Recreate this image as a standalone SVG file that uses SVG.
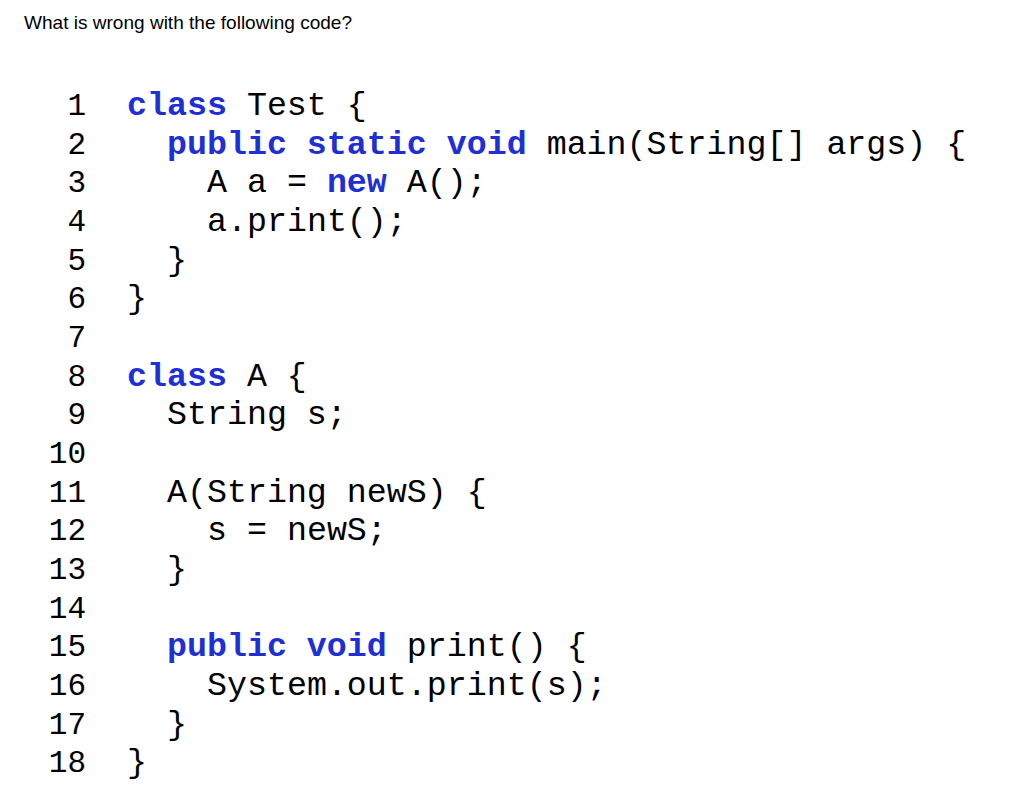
<svg xmlns="http://www.w3.org/2000/svg" width="1024" height="798" viewBox="0 0 1024 798">
<style>
.h{font-family:"Liberation Sans",Arial,sans-serif;font-size:18.5px;fill:#000}
.n{font-family:"Liberation Mono","DejaVu Sans Mono",monospace;font-size:31px;fill:#000;text-anchor:end}
.c{font-family:"Liberation Mono","DejaVu Sans Mono",monospace;font-size:33.3px;fill:#000;white-space:pre}
.k{fill:#1f2fd6;font-weight:bold}
</style>
<rect width="1024" height="798" fill="#fff"/>
<text class="h" x="24" y="29" textLength="328" lengthAdjust="spacingAndGlyphs">What is wrong with the following code?</text>
<g>
<text class="n" x="86" y="115">1</text>
<text class="n" x="86" y="154">2</text>
<text class="n" x="86" y="192">3</text>
<text class="n" x="86" y="231">4</text>
<text class="n" x="86" y="270">5</text>
<text class="n" x="86" y="308">6</text>
<text class="n" x="86" y="347">7</text>
<text class="n" x="86" y="386">8</text>
<text class="n" x="86" y="424">9</text>
<text class="n" x="86" y="463">10</text>
<text class="n" x="86" y="502">11</text>
<text class="n" x="86" y="540">12</text>
<text class="n" x="86" y="579">13</text>
<text class="n" x="86" y="618">14</text>
<text class="n" x="86" y="656">15</text>
<text class="n" x="86" y="695">16</text>
<text class="n" x="86" y="734">17</text>
<text class="n" x="86" y="772">18</text>
</g>
<g>
<text class="c" x="127" y="115"><tspan class="k">class</tspan> Test {</text>
<text class="c" x="167" y="154"><tspan class="k">public static void</tspan> main(String[] args) {</text>
<text class="c" x="207" y="192">A a = <tspan class="k">new</tspan> A();</text>
<text class="c" x="207" y="231">a.print();</text>
<text class="c" x="167" y="270">}</text>
<text class="c" x="127" y="308">}</text>
<text class="c" x="127" y="386"><tspan class="k">class</tspan> A {</text>
<text class="c" x="167" y="424">String s;</text>
<text class="c" x="167" y="502">A(String newS) {</text>
<text class="c" x="207" y="540">s = newS;</text>
<text class="c" x="167" y="579">}</text>
<text class="c" x="167" y="656"><tspan class="k">public void</tspan> print() {</text>
<text class="c" x="207" y="695">System.out.print(s);</text>
<text class="c" x="167" y="734">}</text>
<text class="c" x="127" y="772">}</text>
</g>
</svg>
